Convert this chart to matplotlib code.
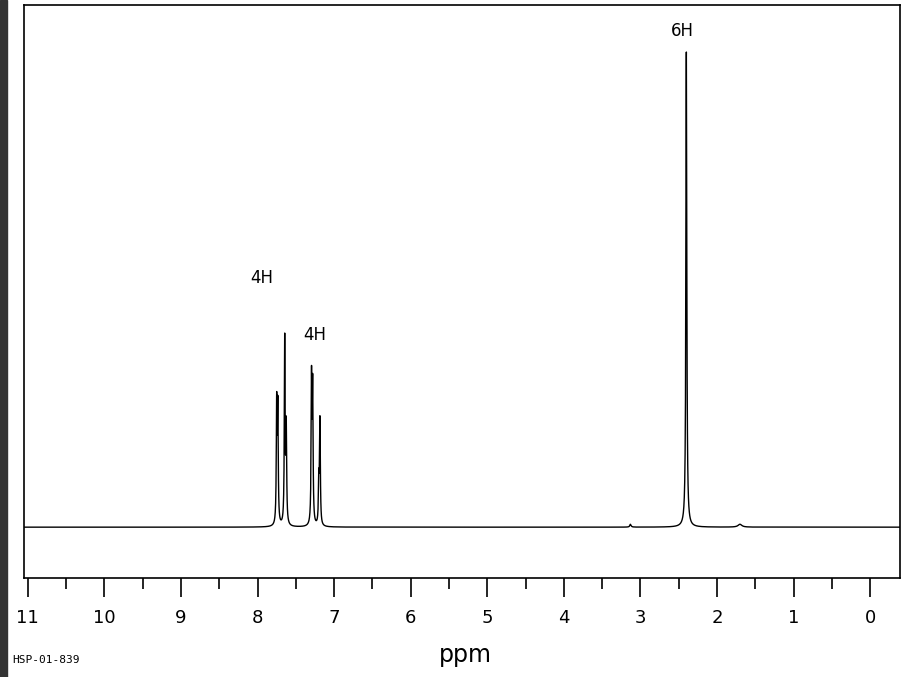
import numpy as np
import matplotlib
matplotlib.use("Agg")
import matplotlib.pyplot as plt
from matplotlib.patches import Rectangle

# peak list (ppm, relative height)
peak_ppm = [7.75, 7.735, 7.645, 7.625, 7.295, 7.28, 7.185, 7.20, 2.40, 3.13, 1.70]
peak_h   = [0.25, 0.24, 0.39, 0.20, 0.30, 0.28, 0.22, 0.09, 1.00, 0.006, 0.006]
peak_w   = [0.006, 0.006, 0.006, 0.006, 0.006, 0.006, 0.006, 0.006, 0.007, 0.01, 0.03]
labels = ["4H", "4H", "6H"]
label_ppm = [7.95, 7.25, 2.45]
label_y = [0.505, 0.385, 1.025]
xticks = list(range(0, 12))

x = np.linspace(-0.4, 11.1, 40000)
y = np.zeros_like(x)
for c, h, w in zip(peak_ppm, peak_h, peak_w):
    y += h * w**2 / ((x - c)**2 + w**2)

fig = plt.figure(figsize=(9.14, 6.77), dpi=100)
fig.patches.append(Rectangle((0, 0), 7/914, 1, transform=fig.transFigure, color="#333333"))
ax = fig.add_axes([24/914, 99/677, 876/914, 573/677])
ax.plot(x, y, color="black", lw=1.0)
ax.set_xlim(11.05, -0.39)
ax.set_ylim(-0.107, 1.099)
ax.set_yticks([])
ax.set_xticks(xticks)
ax.set_xticks(np.arange(0.5, 11, 1), minor=True)
ax.tick_params(axis="x", which="major", length=14, width=1.2, labelsize=13, pad=8)
ax.tick_params(axis="x", which="minor", length=8, width=1.2)
for s in ax.spines.values():
    s.set_linewidth(1.2)
for t, px, py in zip(labels, label_ppm, label_y):
    ax.text(px, py, t, ha="center", va="bottom", fontsize=12)
fig.text(465/914, 1 - 655/677, "ppm", ha="center", va="center", fontsize=17)
fig.text(12/914, 1 - 660/677, "HSP-01-839", ha="left", va="center", fontsize=8, family="DejaVu Sans Mono")
fig.savefig("out.png", dpi=100)
